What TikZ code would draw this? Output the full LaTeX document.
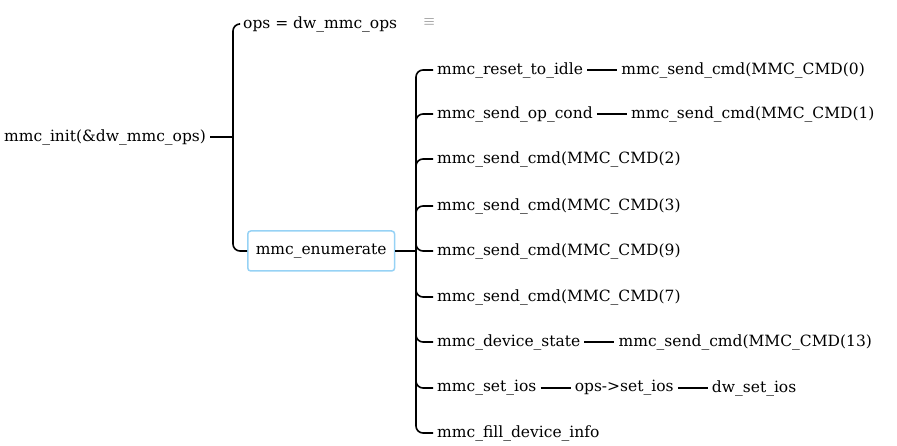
\documentclass[tikz,border=0pt]{standalone}
\usepackage{fontspec}
\setmainfont{DejaVu Serif}
\usetikzlibrary{positioning}
\definecolor{selblue}{RGB}{150,210,245}
\definecolor{icongray}{RGB}{110,110,110}
\begin{document}
\begin{tikzpicture}[x=1pt,y=-1pt,
    item/.style={anchor=west, inner sep=4pt, font=\fontsize{15.5}{18}\selectfont},
    sel/.style={item, draw=selblue, line width=1.5pt, rounded corners=3pt, inner xsep=8pt, minimum height=40pt},
    conn/.style={line width=1.6pt},
    branch/.style={conn, rounded corners=7pt},
    node distance=7pt and 7pt
]
\useasboundingbox (0,0) rectangle (897,446);

% Root
\node[item] (root) at (0,137) {mmc\_init(\&dw\_mmc\_ops)};
\coordinate (j1) at (233,137);

% First level
\node[item] (ops) at (239,24) {ops = dw\_mmc\_ops};
\node[anchor=west, text=icongray, font=\Large] (icon) at (420,22) {$\equiv$};
\node[sel] (enum) at (247,251) {mmc\_enumerate};
\coordinate (j2) at (416,251);

% Second level
\node[item] (reset) at (433,70)  {mmc\_reset\_to\_idle};
\node[item] (opcond) at (433,114) {mmc\_send\_op\_cond};
\node[item] (cmd2) at (433,159) {mmc\_send\_cmd(MMC\_CMD(2)};
\node[item] (cmd3) at (433,206) {mmc\_send\_cmd(MMC\_CMD(3)};
\node[item] (cmd9) at (433,251) {mmc\_send\_cmd(MMC\_CMD(9)};
\node[item] (cmd7) at (433,297) {mmc\_send\_cmd(MMC\_CMD(7)};
\node[item] (state) at (433,342) {mmc\_device\_state};
\node[item] (setios) at (433,388) {mmc\_set\_ios};
\node[item] (fill) at (433,433) {mmc\_fill\_device\_info};

% Third level
\node[item, right=30pt of reset] (cmd0) {mmc\_send\_cmd(MMC\_CMD(0)};
\node[item, right=30pt of opcond] (cmd1) {mmc\_send\_cmd(MMC\_CMD(1)};
\node[item, right=30pt of state] (cmd13) {mmc\_send\_cmd(MMC\_CMD(13)};
\node[item, right=30pt of setios] (opsios) {ops->set\_ios};
\node[item, right=30pt of opsios] (dwios) {dw\_set\_ios};

% Connectors
\draw[conn] (root) -- (j1);
\draw[branch] (j1) |- (ops.west);
\draw[branch] (j1) |- (enum.west);
\draw[conn] (enum) -- (j2);
\foreach \n in {reset,opcond,cmd2,cmd3,cmd9,cmd7,state,setios,fill}
  \draw[branch] (j2) |- (\n.west);
\draw[conn] (reset) -- (cmd0);
\draw[conn] (opcond) -- (cmd1);
\draw[conn] (state) -- (cmd13);
\draw[conn] (setios) -- (opsios);
\draw[conn] (opsios) -- (dwios);
\end{tikzpicture}
\end{document}
